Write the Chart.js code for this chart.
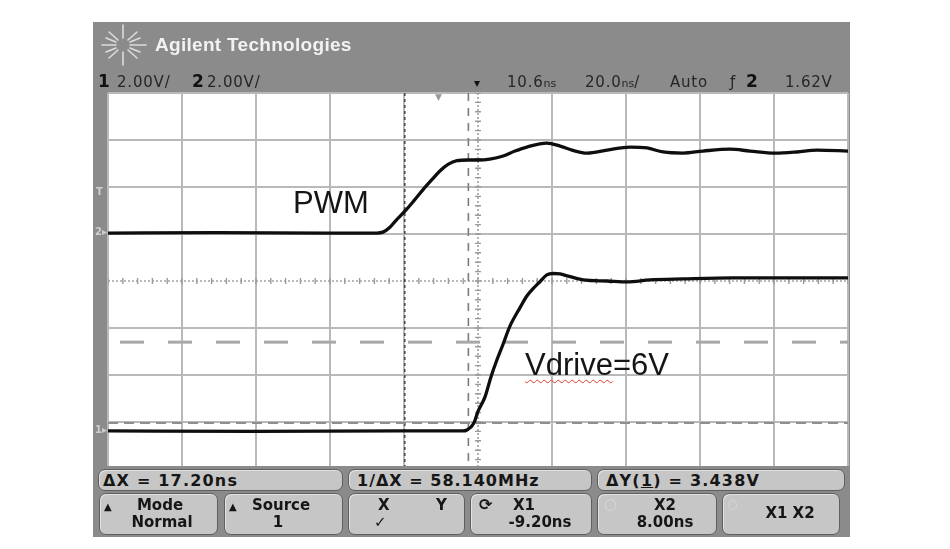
<!DOCTYPE html>
<html>
<head>
<meta charset="utf-8">
<script src="https://cdn.jsdelivr.net/npm/chart.js@4.4.1/dist/chart.umd.min.js"></script>
<style>
  html, body { margin: 0; padding: 0; background: #fff; width: 950px; height: 549px; overflow: hidden; font-family: "DejaVu Sans", sans-serif; }
  .abs { position: absolute; }
  #frame { left: 93px; top: 22px; width: 757px; height: 515px; background: #8b8b8b; }
  #screen { left: 108px; top: 93px; width: 740px; height: 373px; background: #fff; }
  #wrap { left: 0; top: 0; width: 950px; height: 549px; z-index: 2; }
  #bar { left: 93px; top: 466px; width: 757px; height: 71px; background: #8b8b8b; z-index: 3; }
  .key { position: absolute; background: #c6c6c6; border: 1px solid #5f5f5f; border-radius: 7px; box-sizing: border-box; box-shadow: inset 1px 1px 0 #e2e2e2; z-index: 3; }
  .t { position: absolute; white-space: nowrap; z-index: 4; font-weight: bold; font-size: 15px; line-height: 15px; color: #161616; }
  .c { width: 200px; text-align: center; }
  .hd { position: absolute; white-space: nowrap; z-index: 4; font-size: 15px; line-height: 15px; color: #262626; letter-spacing: 0.8px; }
  .lbl { position: absolute; white-space: nowrap; z-index: 4; font-family: "Liberation Sans", Arial, sans-serif; font-size: 31px; line-height: 31px; color: #151515; }
  .mk { position: absolute; z-index: 4; font-size: 10px; line-height: 10px; color: #cfcfcf; font-weight: bold; }
</style>
</head>
<body>
<div id="frame" class="abs"></div>
<div id="screen" class="abs"></div>

<!-- header -->
<svg class="abs" style="left:100px;top:23px;z-index:4" width="48" height="44" viewBox="0 0 48 44">
  <g stroke="#dcdcdc" stroke-width="1.6" stroke-linecap="round">
    <line x1="2" y1="22" x2="16" y2="22"/><line x1="30" y1="22" x2="46" y2="22"/>
    <line x1="23" y1="2" x2="23" y2="15"/><line x1="23" y1="29" x2="23" y2="42"/>
    <line x1="9" y1="9" x2="18" y2="17"/><line x1="28" y1="27" x2="37" y2="35"/>
    <line x1="37" y1="9" x2="28" y2="17"/><line x1="18" y1="27" x2="9" y2="35"/>
    <line x1="6" y1="15" x2="16" y2="19"/><line x1="30" y1="25" x2="40" y2="29"/>
    <line x1="40" y1="15" x2="30" y2="19"/><line x1="16" y1="25" x2="6" y2="29"/>
  </g>
</svg>
<div class="abs" style="left:155px;top:34px;z-index:4;font-family:'Liberation Sans',Arial,sans-serif;font-weight:bold;font-size:19px;line-height:22px;color:#f2f2f2;letter-spacing:0.3px">Agilent Technologies</div>

<div class="hd" style="left:98px;top:74px;font-weight:bold;font-size:17px;color:#111">1</div>
<div class="hd" style="left:117px;top:75px">2.00V/</div>
<div class="hd" style="left:192px;top:74px;font-weight:bold;font-size:17px;color:#111">2</div>
<div class="hd" style="left:207px;top:75px">2.00V/</div>
<div class="hd" style="left:474px;top:76px;font-size:12px;color:#111">&#9662;</div>
<div class="hd" style="left:507px;top:75px">10.6<span style="font-size:11px;letter-spacing:0">ns</span></div>
<div class="hd" style="left:585px;top:75px">20.0<span style="font-size:11px;letter-spacing:0">ns</span>/</div>
<div class="hd" style="left:670px;top:75px">Auto</div>
<div class="hd" style="left:730px;top:75px">&#402;</div>
<div class="hd" style="left:746px;top:74px;font-weight:bold;font-size:17px;color:#111">2</div>
<div class="hd" style="left:785px;top:75px">1.62V</div>

<!-- left strip markers -->
<div class="mk" style="left:96px;top:187px">T</div>
<div class="mk" style="left:95px;top:227px">2&#9656;</div>
<div class="mk" style="left:95px;top:425px">1&#9656;</div>
<div class="mk" style="left:435px;top:92px;color:#9a9a9a;font-size:9px">&#9660;</div>

<div id="wrap" class="abs"><canvas id="scope"></canvas></div>

<!-- trace labels -->
<div class="lbl" style="left:293px;top:187px">PWM</div>
<div class="lbl" style="left:525px;top:349px"><span style="text-decoration:underline wavy #e23b3b;text-decoration-thickness:1px;text-underline-offset:4px">Vdrive</span>=6V</div>

<!-- softkey bar -->
<div id="bar" class="abs"></div>
<div class="key" style="left:98px;top:469px;width:245px;height:22px"></div>
<div class="key" style="left:348px;top:469px;width:244px;height:22px"></div>
<div class="key" style="left:597px;top:469px;width:248px;height:22px"></div>
<div class="key" style="left:99px;top:493px;width:119px;height:42px"></div>
<div class="key" style="left:224px;top:493px;width:119px;height:42px"></div>
<div class="key" style="left:348px;top:493px;width:117px;height:42px"></div>
<div class="key" style="left:470px;top:493px;width:122px;height:42px"></div>
<div class="key" style="left:597px;top:493px;width:120px;height:42px"></div>
<div class="key" style="left:722px;top:493px;width:118px;height:42px"></div>

<div class="t" style="left:103px;top:473px;font-size:16px;letter-spacing:1.2px">&Delta;X = 17.20ns</div>
<div class="t" style="left:357px;top:473px;font-size:16px;letter-spacing:1px">1/&Delta;X = 58.140MHz</div>
<div class="t" style="left:606px;top:473px;font-size:16px;letter-spacing:1.2px">&Delta;Y(<span style="text-decoration:underline">1</span>) = 3.438V</div>

<div class="t" style="left:104px;top:499px;font-size:10px">&#9650;</div>
<div class="t c" style="left:60px;top:498px">Mode</div>
<div class="t c" style="left:62px;top:515px">Normal</div>
<div class="t" style="left:229px;top:499px;font-size:10px">&#9650;</div>
<div class="t c" style="left:181px;top:498px">Source</div>
<div class="t c" style="left:178px;top:515px">1</div>
<div class="t" style="left:378px;top:498px">X</div>
<div class="t" style="left:436px;top:498px">Y</div>
<div class="t" style="left:374px;top:515px">&#10003;</div>
<div class="t" style="left:479px;top:497px;font-size:16px">&#10227;</div>
<div class="t c" style="left:424px;top:498px">X1</div>
<div class="t c" style="left:440px;top:515px">-9.20ns</div>
<div class="t" style="left:604px;top:497px;color:#d8d8d8;font-weight:normal">&#9675;</div>
<div class="t c" style="left:565px;top:498px">X2</div>
<div class="t c" style="left:565px;top:515px">8.00ns</div>
<div class="t" style="left:727px;top:497px;color:#d8d8d8;font-weight:normal;font-size:12px">&#9675;</div>
<div class="t c" style="left:690px;top:506px">X1 X2</div>

<script>
// timebase: 20 ns/div, delay 10.6 ns -> screen spans -89.4 .. 110.6 ns
const xMin = -89.4;
const xMax = 110.6;
const xGrid = [-89.4, -69.4, -49.4, -29.4, -9.4, 10.6, 30.6, 50.6, 70.6, 90.6, 110.6];

// channel 1 (Vdrive), 2 V/div, ground 3.19 div below centre
const ch1Min = -1.62;
const ch1Max = 14.38;
const yGrid = [-1.62, 0.38, 2.38, 4.38, 6.38, 8.38, 10.38, 12.38, 14.38];
// channel 2 (PWM), 2 V/div, ground 1.02 div above centre
const ch2Min = -10.04;
const ch2Max = 5.96;

// cursors
const cursorX1 = -9.2;
const cursorX2 = 8.0;
const cursorY1 = 0.34;
const cursorY2 = 3.778;

// PWM trace (channel 2), ns / V
const pwmTime  = [-89.4, -60, -30, -16.7, -15.1, -13.2, -11.8, -9.1, -6.7, -4.3, -1.8, 0.3, 2.5, 4.9, 7.9, 10.6, 13.8, 17.4, 20.6, 23.8, 29.2, 32.8, 36.0, 40.1, 45.5, 51.7, 56.3, 60.6, 66.0, 71.4, 78.7, 84.1, 90.9, 96.8, 102.2, 110.6];
const pwmVolts = [0, 0.02, 0, 0, 0.04, 0.25, 0.5, 0.94, 1.38, 1.84, 2.28, 2.64, 2.92, 3.08, 3.11, 3.11, 3.15, 3.28, 3.49, 3.66, 3.83, 3.7, 3.53, 3.4, 3.53, 3.66, 3.62, 3.45, 3.4, 3.49, 3.57, 3.49, 3.4, 3.45, 3.53, 3.49];

// Vdrive trace (channel 1), ns / V
const vdTime  = [-89.4, -50, -10, 6.5, 7.6, 9.5, 10.6, 12.5, 14.1, 15.7, 17.4, 19.2, 22.0, 23.8, 25.5, 27.4, 29.2, 30.9, 32.8, 34.7, 39.0, 45.5, 50.9, 57.1, 66.0, 79.5, 93.0, 110.6];
const vdVolts = [0, -0.02, 0, 0, 0.04, 0.34, 0.83, 1.45, 2.3, 3.02, 3.7, 4.45, 5.26, 5.74, 6.06, 6.36, 6.64, 6.7, 6.68, 6.6, 6.43, 6.38, 6.34, 6.43, 6.47, 6.51, 6.51, 6.51];

const gridColor = '#b9b9b9';

function toPoints(xs, ys) {
  return xs.map((t, i) => ({ x: t, y: ys[i] }));
}

// centre-line minor ticks and measurement cursors
const scopeMarks = {
  id: 'scopeMarks',
  beforeDatasetsDraw(chart) {
    const { ctx, chartArea: a, scales: { x, y } } = chart;
    const cx = x.getPixelForValue(xGrid[5]);
    const cy = y.getPixelForValue(yGrid[4]);
    ctx.save();
    ctx.beginPath();
    ctx.rect(a.left, a.top, a.right - a.left, a.bottom - a.top);
    ctx.clip();

    // dotted centre lines
    ctx.strokeStyle = '#a2a2a2';
    ctx.lineWidth = 1.6;
    ctx.setLineDash([2, 2]);
    ctx.beginPath();
    ctx.moveTo(a.left, cy); ctx.lineTo(a.right, cy);
    ctx.moveTo(cx, a.top); ctx.lineTo(cx, a.bottom);
    ctx.stroke();
    ctx.setLineDash([]);

    // minor ticks, 5 per division
    ctx.strokeStyle = '#9a9a9a';
    ctx.lineWidth = 1.4;
    ctx.beginPath();
    const tStep = (xGrid[1] - xGrid[0]) / 5;
    for (let v = xMin; v <= xMax + 0.01; v += tStep) {
      const px = x.getPixelForValue(v);
      ctx.moveTo(px, cy - 3); ctx.lineTo(px, cy + 3);
    }
    const vStep = (yGrid[1] - yGrid[0]) / 5;
    for (let v = ch1Min; v <= ch1Max + 0.01; v += vStep) {
      const py = y.getPixelForValue(v);
      ctx.moveTo(cx - 3, py); ctx.lineTo(cx + 3, py);
    }
    ctx.stroke();

    // X cursors
    const x1 = x.getPixelForValue(cursorX1);
    const x2 = x.getPixelForValue(cursorX2);
    ctx.lineWidth = 1.6;
    ctx.strokeStyle = '#4a4a4a';
    ctx.setLineDash([3, 3]);
    ctx.beginPath(); ctx.moveTo(x1, a.top); ctx.lineTo(x1, a.bottom); ctx.stroke();
    ctx.strokeStyle = '#7c7c7c';
    ctx.setLineDash([8, 7]);
    ctx.beginPath(); ctx.moveTo(x2, a.top); ctx.lineTo(x2, a.bottom); ctx.stroke();

    // Y cursors
    const y1 = y.getPixelForValue(cursorY1);
    const y2 = y.getPixelForValue(cursorY2);
    ctx.strokeStyle = '#a8a8a8';
    ctx.lineWidth = 3;
    ctx.setLineDash([24, 24]);
    ctx.lineDashOffset = 36;
    ctx.beginPath(); ctx.moveTo(a.left, y2); ctx.lineTo(a.right, y2); ctx.stroke();
    ctx.strokeStyle = '#8e8e8e';
    ctx.lineWidth = 2;
    ctx.setLineDash([10, 6]);
    ctx.lineDashOffset = 0;
    ctx.beginPath(); ctx.moveTo(a.left, y1); ctx.lineTo(a.right, y1); ctx.stroke();
    ctx.restore();
  }
};

const traceStyle = {
  showLine: true,
  borderColor: '#0e0e0e',
  borderWidth: 3.3,
  pointRadius: 0,
  cubicInterpolationMode: 'monotone',
  borderJoinStyle: 'round',
  borderCapStyle: 'round',
  fill: false
};

new Chart(document.getElementById('scope').getContext('2d'), {
  type: 'scatter',
  data: {
    datasets: [
      Object.assign({ label: 'PWM', data: toPoints(pwmTime, pwmVolts), yAxisID: 'y2' }, traceStyle),
      Object.assign({ label: 'Vdrive', data: toPoints(vdTime, vdVolts), yAxisID: 'y' }, traceStyle)
    ]
  },
  options: {
    responsive: true,
    maintainAspectRatio: false,
    animation: false,
    events: [],
    layout: { padding: { left: 108, top: 93, right: 102, bottom: 80 } },
    plugins: { legend: { display: false }, tooltip: { enabled: false } },
    scales: {
      x: {
        type: 'linear',
        min: xMin,
        max: xMax,
        afterBuildTicks: s => { s.ticks = xGrid.map(v => ({ value: v })); },
        ticks: { display: false },
        grid: { color: c => c.index === 5 ? 'rgba(0,0,0,0)' : gridColor, lineWidth: 2, drawTicks: false },
        border: { display: false }
      },
      y: {
        type: 'linear',
        min: ch1Min,
        max: ch1Max,
        afterBuildTicks: s => { s.ticks = yGrid.map(v => ({ value: v })); },
        ticks: { display: false },
        grid: { color: c => c.index === 4 ? 'rgba(0,0,0,0)' : gridColor, lineWidth: 2, drawTicks: false },
        border: { display: false }
      },
      y2: {
        type: 'linear',
        display: false,
        min: ch2Min,
        max: ch2Max
      }
    }
  },
  plugins: [scopeMarks]
});
</script>
</body>
</html>
